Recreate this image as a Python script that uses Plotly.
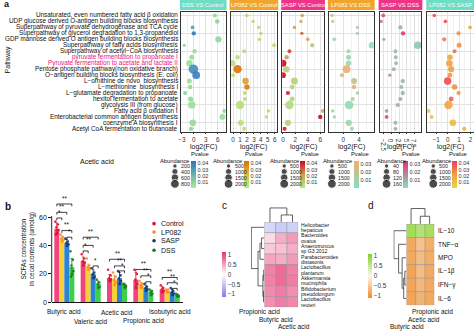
import plotly.graph_objects as go

W, H = 474, 333
FONT = "Liberation Sans, Arial, sans-serif"


def X(px):
    return px / W


def Y(py):
    return 1 - py / H


# ---------------- a: pathway fold changes ----------------
pathways = [
    "Unsaturated, even numbered fatty acid β oxidation",
    "UDP glucose derived O-antigen building blocks biosynthesis",
    "Superpathway of pyruvate dehydrogenase and TCA cycle",
    "Superpathway of glycerol degradation to 1,3-propanediol",
    "GDP mannose derived O antigen building blocks biosynthesis",
    "Superpathway of fatty acids biosynthesis",
    "Superpathway of acetyl−CoA biosynthesis",
    "pyruvate fermentation to propanoate I",
    "Pyruvate fermentation to acetate and lactate II",
    "Pentose phosphate pathway(non oxidative branch)",
    "O−antigen building blocks biosynthesis (E. coli)",
    "L−ornithine de novo  biosynthesis",
    "L−methionine  biosynthesis I",
    "L−glutamate degradation to propanoate",
    "hexitol fermentation to acetate",
    "glycolysis III (from glucose)",
    "Fatty acid β oxidation I",
    "Enterobacterial common antigen biosynthesis",
    "coenzyme A biosynthesis I",
    "Acetyl CoA fermentation to butanoate",
]
pink_pathways = ["pyruvate fermentation to propanoate I",
                 "Pyruvate fermentation to acetate and lactate II"]

comparisons = ["DSS VS Control", "LP082 VS Control", "SASP VS Control",
               "LP082 VS DSS", "SASP VS DSS", "LP082 VS SASP"]

fc_dss_ctrl = [5.3, 5.9, -0.3, 0.0, 6.2, -2.4, 0.2, -0.5, -1.1, -0.1,
               0.6, -1.1, -0.9, -2.2, -0.8, -0.5, 7.7, 7.2, -0.25, -0.7]
ab_dss_ctrl = [180, 220, 160, 200, 420, 60, 200, 260, 420, 950,
               620, 260, 200, 160, 260, 560, 160, 360, 460, 200]
p_dss_ctrl = [0.008, 0.01, 0.028, 0.042, 0.008, 0.01, 0.006, 0.007, 0.006, 0.036,
              0.04, 0.006, 0.008, 0.01, 0.008, 0.005, 0.01, 0.006, 0.007, 0.009]

fc_lp_ctrl = [2.0, 2.9, 3.7, 4.0, 3.8, 5.9, 1.6, 0.65, -0.07, 0.65,
              0.03, 1.8, 2.0, 1.7, 1.7, 1.0, 5.1, 4.8, 1.1, 1.6]
ab_lp_ctrl = [350, 150, 300, 300, 300, 400, 400, 500, 900, 1800,
              400, 1100, 800, 400, 400, 1900, 300, 300, 900, 400]
p_lp_ctrl = [0.012, 0.015, 0.014, 0.012, 0.014, 0.008, 0.01, 0.008, 0.006, 0.042,
             0.008, 0.03, 0.04, 0.01, 0.01, 0.007, 0.015, 0.013, 0.008, 0.012]

fc_sasp_ctrl = [3.1, 2.9, 1.85, 3.05, 4.0, 4.7, 1.05, 0.6, 0.0, 0.53,
                0.0, 1.85, 1.5, 0.8, 1.5, 1.05, 6.4, 6.0, 0.8, 0.27]
ab_sasp_ctrl = [300, 150, 300, 300, 350, 450, 400, 500, 1300, 1100,
                900, 1300, 600, 450, 600, 1900, 400, 500, 1000, 450]
p_sasp_ctrl = [0.022, 0.02, 0.022, 0.03, 0.02, 0.012, 0.035, 0.022, 0.045, 0.008,
               0.045, 0.008, 0.008, 0.04, 0.008, 0.006, 0.018, 0.045, 0.008, 0.04]

fc_lp_dss = [-2.8, -2.65, 3.6, 3.6, -2.25, 7.3, 1.35, 1.35, 1.35, 0.85,
             -0.3, 2.75, 2.75, 3.6, 2.4, 1.5, -2.65, -2.25, 1.4, 2.2]
ab_lp_dss = [150, 150, 300, 300, 350, 1100, 450, 650, 800, 1600,
             450, 1000, 550, 350, 450, 1900, 300, 300, 1000, 400]
p_lp_dss = [0.02, 0.02, 0.012, 0.012, 0.01, 0.006, 0.008, 0.008, 0.01, 0.032,
            0.025, 0.02, 0.03, 0.012, 0.015, 0.006, 0.008, 0.01, 0.008, 0.01]

fc_sasp_dss = [-2.7, -3.35, 2.9, 3.8, -2.5, 8.6, 1.3, 1.4, 1.5, 0.75,
               -0.55, 3.7, 3.2, 3.7, 2.9, 2.05, -1.6, -1.6, 1.3, 1.3]
ab_sasp_dss = [30, 15, 35, 40, 20, 120, 30, 30, 30, 30,
               15, 40, 35, 40, 35, 35, 30, 30, 35, 30]
p_sasp_dss = [0.028, 0.02, 0.01, 0.032, 0.012, 0.005, 0.008, 0.008, 0.008, 0.01,
              0.015, 0.008, 0.008, 0.008, 0.01, 0.01, 0.012, 0.03, 0.008, 0.01]

fc_lp_sasp = [-1.17, -0.2, 1.95, 0.95, -0.3, 1.0, 0.6, 0.2, 0.15, 0.3,
              0.2, 0.0, 0.6, 0.95, 0.3, 0.07, -1.7, -1.4, 0.45, 1.45]
ab_lp_sasp = [350, 350, 350, 450, 450, 650, 450, 800, 1100, 1000,
              600, 1500, 800, 450, 600, 1800, 400, 400, 1100, 450]
p_lp_sasp = [0.04, 0.04, 0.022, 0.025, 0.03, 0.025, 0.032, 0.02, 0.022, 0.022,
             0.025, 0.04, 0.025, 0.025, 0.035, 0.02, 0.01, 0.01, 0.012, 0.015]

abund_breaks_small = [200, 400, 600, 800]
abund_breaks = [500, 1000, 1500, 2000]
abund_breaks_tiny = [40, 80, 120, 160]
p_breaks4 = [0.01, 0.02, 0.03, 0.04]
p_breaks3 = [0.01, 0.02, 0.03]

# ---------------- b: SCFA concentrations ----------------
acids_b = ["Butyric acid", "Valeric acid", "Acetic acid", "Propionic acid", "Isobutyric acid"]
treatments = ["Control", "LP082", "SASP", "DSS"]
mean_control = [52, 29, 17, 16, 9]
mean_lp082 = [45, 25, 16, 12, 8]
mean_sasp = [42, 20, 17, 10, 7]
mean_dss = [25, 13, 12, 7, 5]
sd_control = [4, 3, 2.5, 5, 2]
sd_lp082 = [2, 2, 3, 2, 1]
sd_sasp = [2.5, 3, 4, 2, 2]
sd_dss = [6, 2, 1.5, 1.5, 1]
rep_control = [[57, 55, 53, 51, 49, 48], [34, 31, 29, 28, 26], [23, 19, 17, 16, 15],
               [23, 20, 16, 13, 10], [12, 10, 9, 8, 7]]
rep_lp082 = [[48, 46, 45, 44, 43], [31, 26, 25, 24, 23], [21, 18, 16, 14, 12],
             [15, 13, 12, 11, 10], [9, 9, 8, 7, 7]]
rep_sasp = [[45, 43, 42, 41, 40], [24, 21, 20, 18, 17], [22, 19, 17, 15, 13],
            [13, 11, 10, 9, 8], [10, 8, 7, 6, 5]]
rep_dss = [[36, 30, 26, 22, 20, 18], [16, 14, 13, 11, 10], [13, 12, 12, 11, 10],
           [9, 8, 7, 6, 5], [6, 5, 5, 4, 4]]
# (acid, group i, group j, bracket height, label)
sig_pairs = [
    (0, 0, 3, 69.5, "**"), (0, 0, 2, 63.6, "**"), (0, 0, 1, 59.6, "*"),
    (0, 1, 3, 50.7, "**"), (0, 2, 3, 46.0, "*"),
    (1, 0, 3, 46.0, "**"), (1, 0, 2, 40.2, "**"), (1, 0, 1, 36.3, "*"), (1, 2, 3, 25.7, "*"),
    (2, 0, 3, 30.4, "**"), (2, 1, 3, 25.7, "**"), (2, 2, 3, 22.2, "*"),
    (3, 0, 3, 23.2, "**"), (3, 1, 3, 18.7, "**"), (3, 2, 3, 14.5, "*"),
    (4, 0, 3, 17.5, "**"), (4, 1, 3, 13.8, "**"), (4, 2, 3, 9.8, "*"),
]

# ---------------- c: taxa vs SCFA correlation ----------------
taxa = ["Helicobacter hepaticus", "Bacteroides ovatus", "Anaerotruncus sp G3 2012",
        "Parabacteroides distasonis", "Lactobacillus plantarum", "Akkermansia muciniphila",
        "Bifidobacterium pseudolongum", "Lactobacillus reuteri"]
acids_c = ["Propionic acid", "Butyric acid", "Acetic acid"]
rho_taxa = [
    [-0.35, -0.45, -0.4],
    [0.2, 0.45, 0.55],
    [0.3, 0.35, 0.45],
    [0.5, 0.45, 0.55],
    [0.7, 0.82, 0.7],
    [0.7, 0.82, 0.72],
    [0.65, 0.72, 0.62],
    [0.62, 0.72, 0.66],
]
taxa_links = [(4, 5, 0.15), (6, 7, 0.2), (8, 9, 0.35), (1, 2, 0.7),
              (11, 3, 1.1), (12, 10, 1.6), (0, 13, 3.3)]
acid_links_c = [(1, 2, 0.5), (0, 3, 1.0)]

# ---------------- d: inflammation markers vs SCFA correlation ----------------
markers_d = ["IL−10", "TNF−α", "MPO", "IL−1β", "IFN−γ", "IL−6"]
acids_d = ["Butyric acid", "Acetic acid", "Propionic acid"]
rho_markers = [
    [0.8, 0.65, 0.75],
    [-0.8, -0.55, -0.75],
    [-0.8, -0.6, -0.75],
    [-0.85, -0.6, -0.8],
    [-0.85, -0.65, -0.8],
    [-0.85, -0.7, -0.8],
]
marker_links = [(3, 4, 0.2), (6, 5, 0.35), (2, 7, 0.55), (1, 8, 1.0), (0, 9, 1.6)]
acid_links_d = [(1, 2, 0.5), (0, 3, 1.0)]


# ---------------- helpers ----------------
def axref(n, kind):
    return kind if n == 1 else f"{kind}{n}"


def axkey(n, kind):
    return f"{kind}axis" if n == 1 else f"{kind}axis{n}"


def dendro(n, links):
    pos = [float(i) for i in range(n)]
    hgt = [0.0] * n
    p, h = [], []
    for a, b, lh in links:
        p += [pos[a], pos[a], pos[b], pos[b], None]
        h += [hgt[a], lh, lh, hgt[b], None]
        pos.append((pos[a] + pos[b]) / 2)
        hgt.append(lh)
    return p, h


def cbar(left, top, length, vals, texts, thick=5, size=5.5):
    return dict(x=X(left), xanchor="left", y=Y(top), yanchor="top",
                lenmode="pixels", len=length, thicknessmode="pixels", thickness=thick,
                outlinewidth=0, xpad=0, ypad=0, tickvals=vals, ticktext=texts,
                ticks="", tickfont=dict(size=size, family=FONT, color="#333"))


def text(x, y, s, size=6, xref="paper", yref="paper", **kw):
    d = dict(x=x, y=y, xref=xref, yref=yref, text=s, showarrow=False,
             xanchor="center", yanchor="middle",
             font=dict(size=size, family=FONT, color=kw.pop("color", "#111")))
    d.update(kw)
    annotations.append(d)


fig = go.Figure()
layout = {}
annotations = []
shapes = []

# ---------------- panel a ----------------
a_sets = [
    (fc_dss_ctrl, ab_dss_ctrl, p_dss_ctrl),
    (fc_lp_ctrl, ab_lp_ctrl, p_lp_ctrl),
    (fc_sasp_ctrl, ab_sasp_ctrl, p_sasp_ctrl),
    (fc_lp_dss, ab_lp_dss, p_lp_dss),
    (fc_sasp_dss, ab_sasp_dss, p_sasp_dss),
    (fc_lp_sasp, ab_lp_sasp, p_lp_sasp),
]
a_style = [
    dict(x0=179, x1=224, rng=[-3.25, 8.0], dt=3, strip="#6fdcc4",
         cs=[[0, "#a8ef8e"], [1, "#2a76c6"]], cmax=0.044, pb=p_breaks4, ab=abund_breaks_small,
         tx=172.5, dx=173, cx=189, px=198),
    dict(x0=229, x1=276, rng=[-0.36, 6.36], dt=1, strip="#f0a62c",
         cs=[[0, "#a8ef8e"], [0.5, "#d6c050"], [1, "#e06c00"]], cmax=0.044, pb=p_breaks4, ab=abund_breaks,
         tx=226, dx=227, cx=243, px=253),
    dict(x0=281, x1=323, rng=[-0.11, 6.6], dt=2, strip="#ee3388",
         cs=[[0, "#a8ef8e"], [0.5, "#c8a050"], [1, "#d0002a"]], cmax=0.044, pb=p_breaks4, ab=abund_breaks,
         tx=283, dx=283, cx=299, px=309),
    dict(x0=328, x1=373, rng=[-3.6, 7.7], dt=4, strip="#f0a62c",
         cs=[[0, "#80e2c2"], [1, "#f0ae6c"]], cmax=0.034, pb=p_breaks3, ab=abund_breaks,
         tx=337, dx=331, cx=353, px=359),
    dict(x0=379, x1=421, rng=[-3.9, 9.8], dt=2.5, strip="#ee3388",
         cs=[[0, "#80e2c2"], [1, "#e8306c"]], cmax=0.034, pb=p_breaks3, ab=abund_breaks_tiny,
         tx=391, dx=386, cx=403, px=411),
    dict(x0=427, x1=474, rng=[-1.78, 2.3], dt=1, strip="#6fdcc4",
         cs=[[0, "#e6d840"], [0.5, "#f0a040"], [1, "#f03a5a"]], cmax=0.044, pb=p_breaks4, ab=abund_breaks,
         tx=436, dx=433, cx=452, px=458),
]
DOT_MAX = 6.2
legend_rows = [167.5, 173.2, 179.2, 185.5]

for k, ((fc, ab, pv), st, name) in enumerate(zip(a_sets, a_style, comparisons), start=1):
    xa, ya = axref(k, "x"), axref(k, "y")
    cax = "coloraxis" if k == 1 else f"coloraxis{k}"
    sref = st["ab"][-1] / DOT_MAX ** 2
    fig.add_trace(go.Scatter(
        x=fc, y=pathways, mode="markers", xaxis=xa, yaxis=ya, hoverinfo="skip",
        marker=dict(size=ab, sizemode="area", sizeref=sref, sizemin=1.6,
                    color=pv, coloraxis=cax, opacity=0.9, line=dict(width=0))))
    layout[axkey(k, "x")] = dict(
        domain=[X(st["x0"]), X(st["x1"])], anchor=ya, range=st["rng"],
        tickmode="linear", tick0=0, dtick=st["dt"],
        showgrid=True, gridcolor="#e2e2e2", gridwidth=0.6,
        minor=dict(tick0=0, dtick=st["dt"] / 2, showgrid=True, gridcolor="#f1f1f1", gridwidth=0.4),
        zeroline=False, showline=True, mirror=True, linecolor="#333", linewidth=0.9,
        ticks="outside", ticklen=1.5, tickcolor="#333",
        tickfont=dict(size=6.3, family=FONT, color="#333"))
    layout[axkey(k, "y")] = dict(
        domain=[Y(133), Y(12)], anchor=xa, type="category",
        categoryorder="array", categoryarray=pathways, range=[19.5, -0.6],
        showticklabels=False, ticks="", showgrid=True, gridcolor="#e2e2e2", gridwidth=0.6,
        zeroline=False, showline=True, mirror=(k != 6), linecolor="#333", linewidth=0.9)
    layout[cax] = dict(colorscale=st["cs"], cmin=0, cmax=st["cmax"],
                       colorbar=cbar(st["cx"], 162.5, 26.5, st["pb"], [f"{v:.2f}" for v in st["pb"]]))
    # strip header
    sx1 = min(st["x1"] + 1, W)
    shapes.append(dict(type="rect", xref="paper", yref="paper",
                       x0=X(st["x0"] - 1), x1=X(sx1), y0=Y(10), y1=Y(0),
                       fillcolor=st["strip"], line=dict(width=0), layer="below"))
    text(X((st["x0"] - 1 + sx1) / 2), Y(5), name, size=5.8, color="#fbfbfb")
    text(X((st["x0"] + min(st["x1"], W)) / 2), Y(148), "log2(FC)", size=7)
    # legend: abundance keys and titles
    fig.add_trace(go.Scatter(
        x=[st["dx"]] * 4, y=legend_rows, mode="markers", xaxis="x14", yaxis="y14", hoverinfo="skip",
        marker=dict(size=st["ab"], sizemode="area", sizeref=sref, sizemin=1.6, color="#000")))
    for v, yy in zip(st["ab"], legend_rows):
        text(X(st["dx"] + 4), Y(yy), str(v), size=5.3, xanchor="left", color="#222")
    text(X(st["tx"]), Y(162), "Abundance", size=5.8)
    text(X(st["px"]), Y(155.5), "Pvalue", size=5.8)

# pathway names
for pw in pathways:
    text(X(178), pw, pw, size=6.35, yref="y", xanchor="right",
         color="#e8177d" if pw in pink_pathways else "#111")
text(X(5), Y(60), "Pathway", size=7, textangle=-90)
text(X(4), Y(4.5), "<b>a</b>", size=9)
text(X(95), Y(163), "Acetic acid", size=7)

# ---------------- panel b ----------------
bar_fill = ["#f2437d", "#f8d13a", "#2a83d6", "#3ccf48"]
dot_fill = ["#e0102c", "#ff8a24", "#14386a", "#1e7a24"]
means = [mean_control, mean_lp082, mean_sasp, mean_dss]
sds = [sd_control, sd_lp082, sd_sasp, sd_dss]
reps = [rep_control, rep_lp082, rep_sasp, rep_dss]
BW = 0.19
jitter = [-0.28, 0.22, -0.08, 0.3, 0.05, -0.18]
gx = list(range(len(acids_b)))
for i, t in enumerate(treatments):
    off = (i - 1.5) * BW
    fig.add_trace(go.Bar(
        x=[g + off for g in gx], y=means[i], width=BW, xaxis="x7", yaxis="y7",
        marker=dict(color=bar_fill[i], line=dict(width=0)), hoverinfo="skip",
        error_y=dict(type="data", array=sds[i], color=dot_fill[i], thickness=0.8, width=1.2)))
    px_, py_ = [], []
    for g, vals in zip(gx, reps[i]):
        for j, v in enumerate(vals):
            px_.append(g + off + jitter[j % len(jitter)] * BW)
            py_.append(v)
    fig.add_trace(go.Scatter(x=px_, y=py_, mode="markers", xaxis="x7", yaxis="y7",
                             hoverinfo="skip", marker=dict(size=2.6, color=dot_fill[i], opacity=0.9)))

bx, by = [], []
for g, i, j, hgt, lab in sig_pairs:
    xi, xj = g + (i - 1.5) * BW, g + (j - 1.5) * BW
    bx += [xi, xi, xj, xj, None]
    by += [hgt - 1.6, hgt, hgt, hgt - 1.6, None]
    text((xi + xj) / 2, hgt + 0.2, lab, size=6.3, xref="x7", yref="y7", yanchor="bottom")
fig.add_trace(go.Scatter(x=bx, y=by, mode="lines", xaxis="x7", yaxis="y7", hoverinfo="skip",
                         line=dict(color="#111", width=0.8)))

layout["xaxis7"] = dict(domain=[X(49), X(181)], anchor="y7", range=[-0.48, 4.5],
                        showticklabels=False, ticks="", showgrid=False, zeroline=False,
                        showline=True, linecolor="#111", linewidth=0.9)
layout["yaxis7"] = dict(domain=[Y(305), Y(198)], anchor="x7", range=[0, 75],
                        tickvals=[0, 20, 40, 60], ticks="outside", ticklen=2.5, tickcolor="#111",
                        tickfont=dict(size=7, family=FONT, color="#111"),
                        showgrid=False, zeroline=False, showline=False)
shapes.append(dict(type="line", xref="paper", yref="y7", x0=X(49), x1=X(49), y0=0, y1=61,
                   line=dict(color="#111", width=0.9)))
for g, name in enumerate(acids_b):
    text(g, Y(315 if g % 2 == 0 else 324), name, size=6.5, xref="x7")
text(X(24.5), Y(251), "SCFAs concentration<br>in cecal contents (umol/g)", size=6.5, textangle=-90)
text(X(5), Y(208), "<b>b</b>", size=10)
key_rows = [225.7, 234.2, 243.0, 252.5]
fig.add_trace(go.Scatter(x=[152] * 4, y=key_rows, mode="markers", xaxis="x14", yaxis="y14",
                         hoverinfo="skip", marker=dict(size=3.6, color=dot_fill)))
for t, yy in zip(treatments, key_rows):
    text(X(157), Y(yy), t, size=7, xanchor="left")


# ---------------- heatmap blocks (c, d) ----------------
def heat_block(n0, z, rows, cols, hx0, hx1, hy0, hy1, cax, row_links, col_links,
               rdx0, cdy0, rmax):
    nr, nc = len(rows), len(cols)
    xh, yh = axref(n0, "x"), axref(n0, "y")
    fig.add_trace(go.Heatmap(z=z, x=list(range(nc)), y=list(range(nr)), coloraxis=cax,
                             xaxis=xh, yaxis=yh, hoverinfo="skip"))
    layout[axkey(n0, "x")] = dict(domain=[X(hx0), X(hx1)], anchor=yh, range=[-0.5, nc - 0.5], visible=False)
    layout[axkey(n0, "y")] = dict(domain=[Y(hy1), Y(hy0)], anchor=xh, range=[nr - 0.5, -0.5], visible=False)
    for r in range(nr + 1):
        shapes.append(dict(type="line", xref=xh, yref=yh, x0=-0.5, x1=nc - 0.5, y0=r - 0.5, y1=r - 0.5,
                           line=dict(color="#9a9a9a", width=0.7)))
    for c in range(nc + 1):
        shapes.append(dict(type="line", xref=xh, yref=yh, x0=c - 0.5, x1=c - 0.5, y0=-0.5, y1=nr - 0.5,
                           line=dict(color="#9a9a9a", width=0.7)))
    # row dendrogram
    p, h = dendro(nr, row_links)
    xr, yr = axref(n0 + 1, "x"), axref(n0 + 1, "y")
    fig.add_trace(go.Scatter(x=h, y=p, mode="lines", xaxis=xr, yaxis=yr, hoverinfo="skip",
                             line=dict(color="#3a3a3a", width=0.8)))
    layout[axkey(n0 + 1, "x")] = dict(domain=[X(rdx0), X(hx0)], anchor=yr, range=[rmax, 0], visible=False)
    layout[axkey(n0 + 1, "y")] = dict(domain=[Y(hy1), Y(hy0)], anchor=xr, range=[nr - 0.5, -0.5], visible=False)
    # column dendrogram
    p, h = dendro(nc, col_links)
    xc, yc = axref(n0 + 2, "x"), axref(n0 + 2, "y")
    fig.add_trace(go.Scatter(x=p, y=h, mode="lines", xaxis=xc, yaxis=yc, hoverinfo="skip",
                             line=dict(color="#3a3a3a", width=0.8)))
    layout[axkey(n0 + 2, "x")] = dict(domain=[X(hx0), X(hx1)], anchor=yc, range=[-0.5, nc - 0.5], visible=False)
    layout[axkey(n0 + 2, "y")] = dict(domain=[Y(hy0), Y(cdy0)], anchor=xc, range=[0, 1.06], visible=False)


heat_block(8, rho_taxa, taxa, acids_c, 263, 297, 224, 310, "coloraxis7",
           taxa_links, acid_links_c, 249.5, 209, 3.4)
layout["coloraxis7"] = dict(colorscale=[[0, "#7c7cee"], [0.5, "#ffffff"], [1, "#e6306f"]],
                            cmin=-1.15, cmax=1.15,
                            colorbar=cbar(220, 254.5, 44.5, [-1, -0.5, 0, 0.5, 1],
                                          ["−1", "−0.5", "0", "0.5", "1"], thick=4, size=6.3))
for i, tx in enumerate(taxa):
    first, rest = tx.split(" ", 1)
    text(X(298), i, first, size=5.1, yref="y8", xanchor="left", yshift=2.7)
    text(X(298), i, rest, size=5.1, yref="y8", xanchor="left", yshift=-2.7)
for name, cxp, cyp in zip(acids_c, [258.5, 275, 293], [315, 322.5, 329.5]):
    text(X(cxp), Y(cyp), name, size=6.5)
text(X(223), Y(207), "c", size=10)

heat_block(11, rho_markers, markers_d, acids_d, 406, 434, 226, 308, "coloraxis8",
           marker_links, acid_links_d, 393, 209.5, 1.65)
layout["coloraxis8"] = dict(colorscale=[[0, "#f08c2c"], [0.5, "#fff6ea"], [1, "#7ed321"]],
                            cmin=-1.1, cmax=1.1,
                            colorbar=cbar(367, 256, 44, [-1, -0.5, 0, 0.5, 1],
                                          ["−1", "−0.5", "0", "0.5", "1"], thick=4, size=6.3))
for i, m in enumerate(markers_d):
    text(X(435.5), i, m, size=6.5, yref="y11", xanchor="left")
for name, cxp, cyp in zip(acids_d, [406.5, 423.5, 432], [329.5, 322, 314.5]):
    text(X(cxp), Y(cyp), name, size=6.5)
text(X(370), Y(207), "d", size=10)

# full-figure canvas for legend keys
layout["xaxis14"] = dict(domain=[0, 1], anchor="y14", range=[0, W], visible=False)
layout["yaxis14"] = dict(domain=[0, 1], anchor="x14", range=[H, 0], visible=False)

fig.update_layout(
    width=W, height=H, margin=dict(l=0, r=0, t=0, b=0),
    paper_bgcolor="#ffffff", plot_bgcolor="rgba(0,0,0,0)",
    showlegend=False, barmode="overlay",
    font=dict(family=FONT, color="#111"),
    annotations=annotations, shapes=shapes, **layout)

fig.write_html("out.html")
